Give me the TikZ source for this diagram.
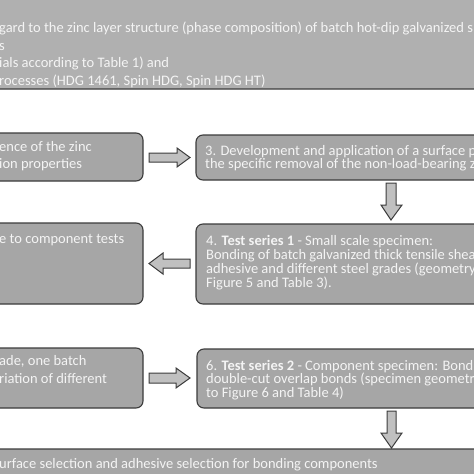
\documentclass[tikz,border=0pt]{standalone}
\usepackage{fontspec}
\setmainfont{Carlito}
\begin{document}
\definecolor{boxfill}{RGB}{166,166,166}
\definecolor{topfill}{RGB}{176,176,176}
\definecolor{arrowfill}{RGB}{192,192,192}
\definecolor{edge}{RGB}{60,60,60}
\definecolor{txt}{RGB}{244,244,244}
\begin{tikzpicture}[x=1pt,y=-1pt,
  box/.style={draw=edge,line width=1.1pt,fill=boxfill,rounded corners=7pt},
  blockarrow/.style={draw=edge,line width=1pt,fill=arrowfill,line join=miter},
  line/.style={anchor=base west,inner sep=0pt,text=txt,font=\fontsize{14.5}{17}\selectfont}]
\useasboundingbox (0,0) rectangle (474,474);
\clip (0,0) rectangle (474,474);
\fill[white] (0,0) rectangle (474,474);

% boxes
\draw[box,fill=topfill] (-20,-10) rectangle (494,89) node[pos=0] (b1) {};
\draw[box] (-30,133) rectangle (143,181) node[pos=0] (b2) {};
\draw[box] (196,135) rectangle (510,180) node[pos=0] (b3) {};
\draw[box] (-30,223) rectangle (143,304) node[pos=0] (b5) {};
\draw[box] (196,224) rectangle (510,304) node[pos=0] (b4) {};
\draw[box] (-30,348) rectangle (143,408) node[pos=0] (b7) {};
\draw[box] (197,349) rectangle (510,408) node[pos=0] (b6) {};
\draw[box] (-30,449) rectangle (510,500) node[pos=0] (b8) {};

% block arrows between the boxes
\draw[blockarrow] (149,153) -- (177,153) -- (177,148) -- (190,157.5) -- (177,167) -- (177,162) -- (149,162) -- cycle;
\draw[blockarrow] (386,183) -- (396,183) -- (396,205) -- (402,205) -- (391,220) -- (381,205) -- (386,205) -- cycle;
\draw[blockarrow] (190,259) -- (163,259) -- (163,253) -- (149,263.5) -- (163,274) -- (163,268) -- (190,268) -- cycle;
\draw[blockarrow] (149,373) -- (176,373) -- (176,368) -- (190,378) -- (176,388) -- (176,383) -- (149,383) -- cycle;
\draw[blockarrow] (387,411) -- (396,411) -- (396,433) -- (402,433) -- (391.5,448) -- (381,433) -- (387,433) -- cycle;

% texts
\node[line] (t1a) at (-1,32) {gard to the zinc layer structure (phase composition) of batch hot-dip galvanized s};
\node[line] (t1b) at (-1,50) {s};
\node[line] (t1c) at (-1,67) {ials according to Table 1) and};
\node[line] (t1d) at (-1,85) {rocesses (HDG 1461, Spin HDG, Spin HDG HT)};

\node[line] (t2a) at (-1,151) {ence of the zinc};
\node[line] (t2b) at (-1,168) {ion properties};

\node[line] (t3a) at (205,155) {3. Development and application of a surface p};
\node[line] (t3b) at (205,168.5) {the specific removal of the non-load-bearing z};

\node[line] (t5a) at (-1,243) {e to component tests};

\node[line] (t4a) at (206,245) {4. \textbf{Test series 1} - Small scale specimen:};
\node[line] (t4b) at (206,259) {Bonding of batch galvanized thick tensile shea};
\node[line] (t4c) at (206,273) {adhesive and different steel grades (geometry};
\node[line] (t4d) at (206,287) {Figure 5 and Table 3).};

\node[line] (t7a) at (-1,365.5) {ade, one batch};
\node[line] (t7b) at (-1,383) {riation of different};

\node[line] (t6a) at (206,370) {6. \textbf{Test series 2} - Component specimen: Bondi};
\node[line] (t6b) at (206,383.5) {double-cut overlap bonds (specimen geometr};
\node[line] (t6c) at (206,397.5) {to Figure 6 and Table 4)};

\node[line] (t8a) at (-1,468) {urface selection and adhesive selection for bonding components};
\end{tikzpicture}
\end{document}
